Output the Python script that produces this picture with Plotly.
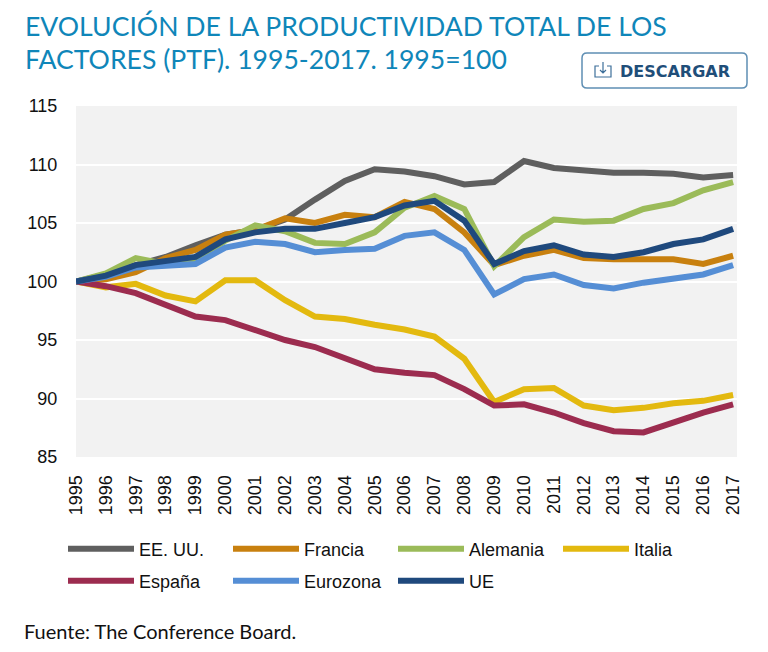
import plotly.graph_objects as go

years = [str(y) for y in range(1995, 2018)]
eeuu = [100,100.6,101.4,102.1,103.1,104,104.4,105.3,107,108.6,109.6,109.4,109,108.3,108.5,110.3,109.7,109.5,109.3,109.3,109.2,108.9,109.1]
francia = [100,100.2,100.8,102,102.7,104,104.4,105.4,105,105.7,105.5,106.8,106.2,104.2,101.4,102.2,102.7,102,101.9,101.9,101.9,101.5,102.2]
alemania = [100,100.7,102,101.5,101.7,103.5,104.8,104.3,103.3,103.2,104.2,106.3,107.3,106.2,101.3,103.8,105.3,105.1,105.2,106.2,106.7,107.8,108.5]
italia = [100,99.5,99.8,98.8,98.3,100.1,100.1,98.4,97,96.8,96.3,95.9,95.3,93.4,89.7,90.8,90.9,89.4,89,89.2,89.6,89.8,90.3]
espana = [100,99.6,99,98,97,96.7,95.9,95,94.4,93.5,92.5,92.2,92,90.8,89.4,89.5,88.8,87.9,87.2,87.1,88,88.8,89.5]
eurozona = [100,100.4,101.2,101.3,101.5,102.9,103.4,103.2,102.5,102.7,102.8,103.9,104.2,102.7,98.9,100.2,100.6,99.7,99.4,99.9,100.3,100.6,101.4]
ue = [100,100.5,101.4,101.7,102.1,103.6,104.2,104.5,104.5,105,105.5,106.5,106.9,105.2,101.5,102.6,103.1,102.3,102.1,102.5,103.2,103.6,104.5]

series = [
    ("EE. UU.", eeuu, "#5f5f5f", "legend"),
    ("Francia", francia, "#c8800f", "legend"),
    ("Alemania", alemania, "#9bbb59", "legend"),
    ("Italia", italia, "#e3b90f", "legend"),
    ("España", espana, "#9c2c4f", "legend2"),
    ("Eurozona", eurozona, "#558ed5", "legend2"),
    ("UE", ue, "#1f497d", "legend2"),
]

fig = go.Figure()
for name, vals, color, leg in series:
    fig.add_trace(go.Scatter(x=years, y=vals, name=name, mode="lines", legend=leg,
                             line=dict(color=color, width=6), cliponaxis=False))

W, H = 768, 652
L, R, T, B = 76, 31, 106, 195
PW, PH = W - L - R, H - T - B

def px(x): return (x - L) / PW
def py(y): return (H - B - y) / PH

legfont = dict(family="Liberation Sans", size=18, color="#111111")
legcommon = dict(orientation="h", x=px(63), xanchor="left", yanchor="middle", itemwidth=66,
                 entrywidth=84, entrywidthmode="pixels", font=legfont,
                 bgcolor="rgba(0,0,0,0)", traceorder="normal", itemclick=False, itemdoubleclick=False)

btn = [582, 53, 747, 88]
r = 5
bx0, by0, bx1, by1 = px(btn[0]), py(btn[1]), px(btn[2]), py(btn[3])
rx, ry = r / PW, r / PH
btn_path = (f"M{bx0+rx},{by0} L{bx1-rx},{by0} Q{bx1},{by0} {bx1},{by0-ry} L{bx1},{by1+ry} "
            f"Q{bx1},{by1} {bx1-rx},{by1} L{bx0+rx},{by1} Q{bx0},{by1} {bx0},{by1+ry} "
            f"L{bx0},{by0-ry} Q{bx0},{by0} {bx0+rx},{by0} Z")
icon_path = (f"M{px(599)},{py(66)} L{px(595)},{py(66)} L{px(595)},{py(77)} L{px(611)},{py(77)} "
             f"L{px(611)},{py(66)} L{px(607)},{py(66)} M{px(603)},{py(62)} L{px(603)},{py(73)} "
             f"M{px(600)},{py(70)} L{px(603)},{py(73)} L{px(606)},{py(70)}")

titlefont = dict(family="Lato", size=26.6, color="#0f86b9")

fig.update_layout(
    width=W, height=H, margin=dict(l=L, r=R, t=T, b=B, autoexpand=False),
    paper_bgcolor="white", plot_bgcolor="#f2f2f2",
    title=dict(text="EVOLUCIÓN DE LA PRODUCTIVIDAD TOTAL DE LOS",
               x=25 / W, xanchor="left", y=1 - 27 / H, yanchor="middle", font=titlefont),
    xaxis=dict(type="category", range=[0, 22.13], tickangle=-90, showgrid=False, zeroline=False,
               ticks="outside", ticklen=10, tickcolor="rgba(0,0,0,0)",
               tickfont=dict(family="Liberation Sans", size=18, color="#111111"), showline=False),
    yaxis=dict(range=[85, 115], tickvals=[85, 90, 95, 100, 105, 110, 115], gridcolor="white", gridwidth=2,
               zeroline=False, showline=False, ticks="outside", ticklen=14, tickcolor="rgba(0,0,0,0)",
               tickfont=dict(family="Liberation Sans", size=18, color="#111111")),
    legend=dict(y=py(549), **legcommon),
    legend2=dict(y=py(581), **legcommon),
    shapes=[
        dict(type="path", xref="paper", yref="paper", path=btn_path,
             line=dict(color="#5f8fb4", width=1.5), fillcolor="white"),
        dict(type="path", xref="paper", yref="paper", path=icon_path,
             line=dict(color="#3d6f9a", width=1.2)),
    ],
    annotations=[
        dict(text="FACTORES (PTF). 1995-2017. 1995=100", xref="paper", yref="paper", x=px(23), y=py(59),
             xanchor="left", yanchor="middle", showarrow=False, font=titlefont),
        dict(text="<b>DESCARGAR</b>", xref="paper", yref="paper", x=px(618), y=py(71), xanchor="left",
             yanchor="middle", showarrow=False,
             font=dict(family="DejaVu Sans", size=16, color="#1f4e79")),
        dict(text="Fuente: The Conference Board.", xref="paper", yref="paper", x=px(22), y=py(631),
             xanchor="left", yanchor="middle", showarrow=False,
             font=dict(family="Lato", size=20, color="#111111")),
    ],
)

fig.write_html("out.html", config={"displayModeBar": False},
               post_script="document.body.style.margin='0';")
